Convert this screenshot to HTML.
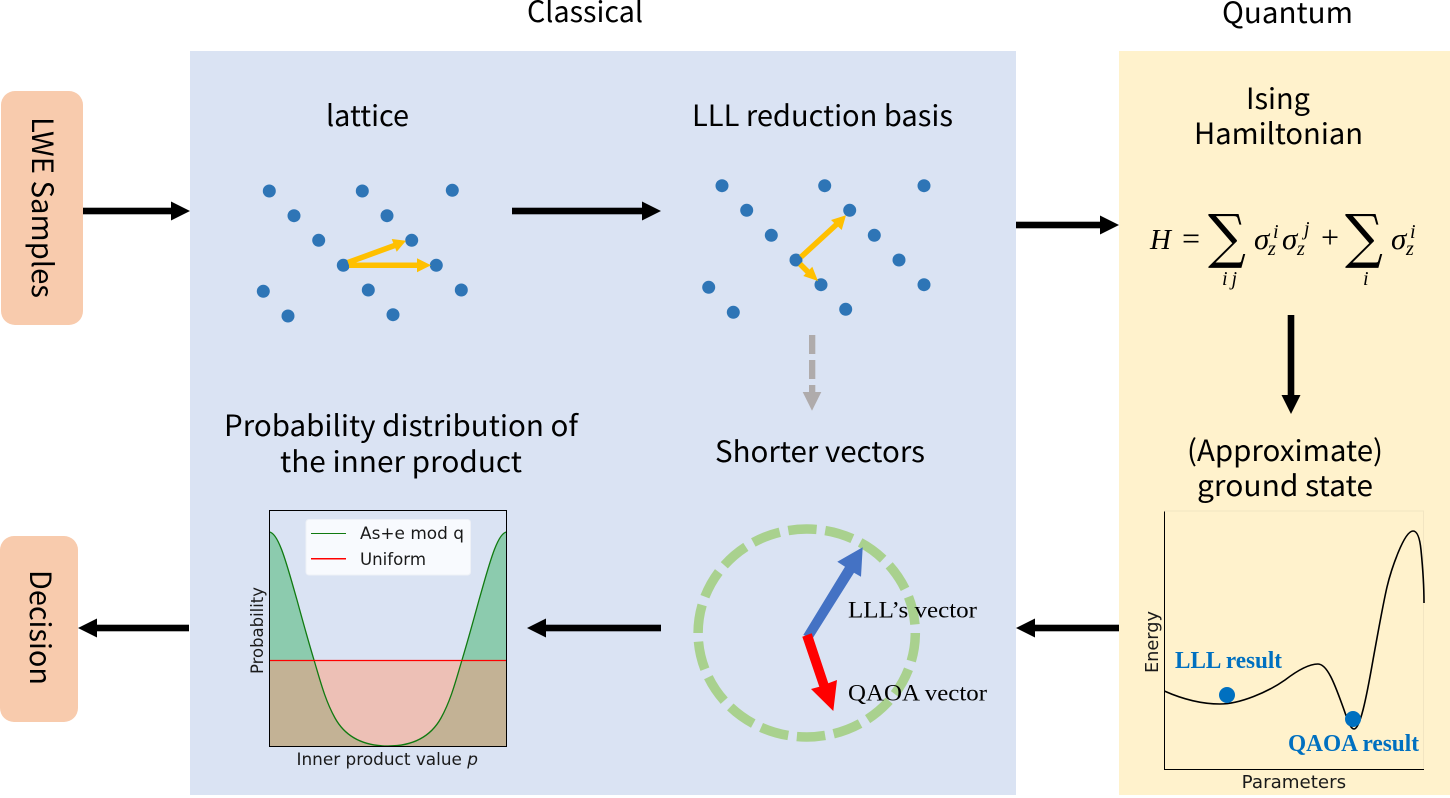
<!DOCTYPE html>
<html>
<head>
<meta charset="utf-8">
<style>
html,body{margin:0;padding:0;background:#fff;width:1450px;height:798px;overflow:hidden}
svg{display:block}
.t{font-family:"Noto Sans CJK SC","Liberation Sans",sans-serif;font-size:29px;fill:#000}
.d{font-family:"DejaVu Sans",sans-serif;font-size:17px;fill:#1a1a1a}
.s{font-family:"Liberation Serif",serif;font-size:23px;fill:#000}
.b{font-family:"Liberation Serif",serif;font-size:24px;font-weight:bold;fill:#0070C0}
.m{font-family:"Liberation Serif",serif;font-style:italic;fill:#000}
</style>
</head>
<body>
<svg width="1450" height="798" viewBox="0 0 1450 798" xmlns="http://www.w3.org/2000/svg">
<rect x="190" y="51" width="826" height="744" fill="#DAE3F3"/>
<rect x="1119" y="51" width="331" height="744" fill="#FFF2CC"/>
<rect x="1" y="91" width="82" height="234" rx="14" fill="#F8CBAD"/>
<rect x="0" y="536" width="78" height="186" rx="14" fill="#F8CBAD"/>

<!-- Titles -->
<text class="t" x="527" y="22" textLength="116" lengthAdjust="spacingAndGlyphs">Classical</text>
<text class="t" x="1222" y="23" textLength="131" lengthAdjust="spacingAndGlyphs">Quantum</text>
<text class="t" x="326" y="126" textLength="83" lengthAdjust="spacingAndGlyphs">lattice</text>
<text class="t" x="692" y="126" textLength="261" lengthAdjust="spacingAndGlyphs">LLL reduction basis</text>
<text class="t" x="1246" y="109" textLength="64" lengthAdjust="spacingAndGlyphs">Ising</text>
<text class="t" x="1194" y="144" textLength="169" lengthAdjust="spacingAndGlyphs">Hamiltonian</text>
<text class="t" x="224" y="436" textLength="354" lengthAdjust="spacingAndGlyphs">Probability distribution of</text>
<text class="t" x="280" y="472" textLength="242" lengthAdjust="spacingAndGlyphs">the inner product</text>
<text class="t" x="715" y="462" textLength="210" lengthAdjust="spacingAndGlyphs">Shorter vectors</text>
<text class="t" x="1187" y="461" textLength="196" lengthAdjust="spacingAndGlyphs">(Approximate)</text>
<text class="t" x="1197" y="496" textLength="176" lengthAdjust="spacingAndGlyphs">ground state</text>
<text class="t" transform="translate(32 117) rotate(90)" textLength="181" lengthAdjust="spacingAndGlyphs">LWE Samples</text>
<text class="t" transform="translate(30 570) rotate(90)" textLength="115" lengthAdjust="spacingAndGlyphs">Decision</text>

<!-- Black arrows -->
<g fill="#000">
<rect x="83" y="207.7" width="90" height="6.6"/><polygon points="171,201.5 190,211 171,220.5"/>
<rect x="512" y="207.7" width="132" height="6.6"/><polygon points="642,201.5 661,211 642,220.5"/>
<rect x="1016" y="221.7" width="86" height="6.6"/><polygon points="1100,215.5 1119,225 1100,234.5"/>
<rect x="1287.7" y="315" width="6.6" height="82"/><polygon points="1281.5,395 1300.5,395 1291,414"/>
<rect x="1034" y="624.7" width="85" height="6.6"/><polygon points="1035,618.5 1016,628 1035,637.5"/>
<rect x="545" y="624.7" width="116" height="6.6"/><polygon points="546,618.5 527,628 546,637.5"/>
<rect x="96" y="624.7" width="93" height="6.6"/><polygon points="97,618.5 78,628 97,637.5"/>
</g>

<!-- Lattice left -->
<g fill="#2E75B6">
<circle cx="269.3" cy="191" r="6.5"/><circle cx="362.3" cy="191" r="6.5"/><circle cx="452.3" cy="190.3" r="6.5"/>
<circle cx="294" cy="215.7" r="6.5"/><circle cx="387" cy="215.7" r="6.5"/>
<circle cx="318.7" cy="240.3" r="6.5"/><circle cx="411.7" cy="240.3" r="6.5"/>
<circle cx="343.3" cy="265.3" r="6.5"/><circle cx="436.3" cy="265.3" r="6.5"/>
<circle cx="263.3" cy="291.3" r="6.5"/><circle cx="368.3" cy="290" r="6.5"/><circle cx="461.3" cy="290" r="6.5"/>
<circle cx="288" cy="316" r="6.5"/><circle cx="393" cy="314.7" r="6.5"/>
</g>
<g fill="#FFC000" stroke="none">
<line x1="349" y1="265.3" x2="419" y2="265.3" stroke="#FFC000" stroke-width="5.5"/>
<polygon points="417,258.3 431,265.3 417,272.3"/>
<line x1="348" y1="262.5" x2="396" y2="245" stroke="#FFC000" stroke-width="5.5"/>
<polygon points="406,240.7 391.7,239 396.7,251.7"/>
</g>

<!-- Lattice right -->
<g fill="#2E75B6">
<circle cx="722" cy="185.7" r="6.5"/><circle cx="824.7" cy="185.7" r="6.5"/><circle cx="924" cy="185.7" r="6.5"/>
<circle cx="746.7" cy="210.3" r="6.5"/><circle cx="849.7" cy="210.3" r="6.5"/>
<circle cx="771.3" cy="235.3" r="6.5"/><circle cx="874.3" cy="235.3" r="6.5"/>
<circle cx="796" cy="260" r="6.5"/><circle cx="899" cy="260" r="6.5"/>
<circle cx="708.7" cy="287.3" r="6.5"/><circle cx="821" cy="284.7" r="6.5"/><circle cx="924" cy="284.7" r="6.5"/>
<circle cx="733.3" cy="312.3" r="6.5"/><circle cx="845.7" cy="309.3" r="6.5"/>
</g>
<g fill="#FFC000">
<line x1="801" y1="257" x2="837" y2="224" stroke="#FFC000" stroke-width="5.5"/>
<polygon points="846,215.3 831,220 841.7,230"/>
<line x1="800" y1="264" x2="808" y2="272" stroke="#FFC000" stroke-width="5.5"/>
<polygon points="818,281 812.3,266.7 803.3,276"/>
</g>

<!-- Gray dashed arrow -->
<g fill="#AFABAB">
<rect x="809" y="335" width="6.3" height="19"/>
<rect x="809" y="360" width="6.3" height="19"/>
<rect x="809" y="385" width="6.3" height="8"/>
<polygon points="802.7,392 821.3,392 812,410.7"/>
</g>

<!-- Distribution plot -->
<rect x="269" y="660" width="237" height="86" fill="#C3B295"/>
<path d="M269,532 C279,532 288,569 297,600 C303,622 308,640 314,660 L269,660 Z" fill="#8CCBAE"/>
<path d="M314,660 C320,680 325,700 335,718 C345,736 362,746 388,746 C414,746 431,736 441,718 C451,700 456,680 462,660 Z" fill="#EDC0B6"/>
<path d="M507,532 C497,532 488,569 479,600 C473,622 468,640 462,660 L507,660 Z" fill="#8CCBAE"/>
<path d="M269,532 C279,532 288,569 297,600 C303,622 308,640 314,660 C320,680 325,700 335,718 C345,736 362,746 388,746 C414,746 431,736 441,718 C451,700 456,680 462,660 C468,640 473,622 479,600 C488,569 497,532 507,532" fill="none" stroke="#107A10" stroke-width="1.3"/>
<line x1="269" y1="660.5" x2="506" y2="660.5" stroke="#F00" stroke-width="1.3"/>
<rect x="269.5" y="510.5" width="237" height="236" fill="none" stroke="#000" stroke-width="1"/>
<rect x="306" y="519.5" width="164.5" height="55.5" rx="3" fill="#F8FAFE" stroke="#EEF1F7" stroke-width="1"/>
<line x1="311" y1="533.5" x2="346" y2="533.5" stroke="#107A10" stroke-width="1"/>
<line x1="311" y1="558.7" x2="346" y2="558.7" stroke="#F00" stroke-width="1.5"/>
<text class="d" x="360" y="539" textLength="104" lengthAdjust="spacingAndGlyphs">As+e mod q</text>
<text class="d" x="360" y="565" textLength="66" lengthAdjust="spacingAndGlyphs">Uniform</text>
<text class="d" x="296.5" y="765" textLength="181.5" lengthAdjust="spacingAndGlyphs">Inner product value <tspan font-style="italic">p</tspan></text>
<text class="d" transform="translate(263 674) rotate(-90)" textLength="87" lengthAdjust="spacingAndGlyphs">Probability</text>

<!-- Circle -->
<ellipse cx="806.7" cy="633" rx="108.6" ry="104" fill="none" stroke="#A9D18E" stroke-width="9.5" stroke-dasharray="28.4 8.7"/>
<polygon points="803.3,635 845,566.7 837.3,561.7 862.7,547.3 861,576.7 854,572.7 812.7,638.3" fill="#4472C4"/>
<polygon points="802.3,636.7 811.7,633.3 828.3,683.3 837,680 833.3,711 811,689 819.3,686.7" fill="#F00"/>
<text class="s" x="848" y="617.7" textLength="129" lengthAdjust="spacingAndGlyphs">LLL’s vector</text>
<text class="s" x="848" y="700.7" textLength="139" lengthAdjust="spacingAndGlyphs">QAOA vector</text>

<!-- Formula -->
<text class="m" x="1150" y="249" font-size="29">H</text>
<text x="1182" y="249" font-family="Liberation Serif,serif" font-size="32">=</text>
<text transform="translate(1208 256.5) scale(.9 1)" font-family="DejaVu Serif,serif" font-size="59">∑</text>
<text class="m" x="1222" y="285" font-size="20" textLength="15" lengthAdjust="spacing">ij</text>
<text class="m" x="1254" y="249" font-size="31">σ</text>
<text class="m" x="1273" y="238" font-size="20">i</text>
<text class="m" x="1268" y="255" font-size="20">z</text>
<text class="m" x="1282" y="249" font-size="31">σ</text>
<text class="m" x="1304" y="235" font-size="20">j</text>
<text class="m" x="1297" y="255" font-size="20">z</text>
<text x="1321" y="248" font-family="Liberation Serif,serif" font-size="32">+</text>
<text transform="translate(1345 256.5) scale(.9 1)" font-family="DejaVu Serif,serif" font-size="59">∑</text>
<text class="m" x="1363" y="285" font-size="20">i</text>
<text class="m" x="1391" y="249" font-size="31">σ</text>
<text class="m" x="1410" y="238" font-size="20">i</text>
<text class="m" x="1406" y="255" font-size="20">z</text>

<!-- Energy plot -->
<line x1="1164.5" y1="511" x2="1164.5" y2="769" stroke="#000" stroke-width="1"/>
<line x1="1164" y1="769.5" x2="1424" y2="769.5" stroke="#000" stroke-width="1"/>
<line x1="1164" y1="511" x2="1424" y2="511" stroke="#F2E5C2" stroke-width="1"/>
<line x1="1423.5" y1="511" x2="1423.5" y2="769" stroke="#F2E5C2" stroke-width="1"/>
<path d="M1164.3,691 C1180,698 1198,704 1220,704 C1240,704 1268,692 1285,680 C1298,670 1310,664 1318,664 C1328,664 1336,688 1343,707 C1347,718 1350,729 1354,729 C1360,729 1366,700 1373,660 C1377,638 1383,604 1387,587 C1391,570 1404,531 1413,531 C1418,531 1420,540 1421,550 C1423,570 1424,590 1424,603" fill="none" stroke="#000" stroke-width="1.6"/>
<circle cx="1227" cy="695" r="8" fill="#0070C0"/>
<circle cx="1353" cy="719" r="8" fill="#0070C0"/>
<text class="b" x="1175" y="668" textLength="107" lengthAdjust="spacingAndGlyphs">LLL result</text>
<text class="b" x="1288" y="751" textLength="131" lengthAdjust="spacingAndGlyphs">QAOA result</text>
<text class="d" x="1241.7" y="788" font-size="18" style="font-size:18px" textLength="104.5" lengthAdjust="spacingAndGlyphs">Parameters</text>
<text class="d" transform="translate(1158 673) rotate(-90)" style="font-size:18px" textLength="62" lengthAdjust="spacingAndGlyphs">Energy</text>
</svg>
</body>
</html>
